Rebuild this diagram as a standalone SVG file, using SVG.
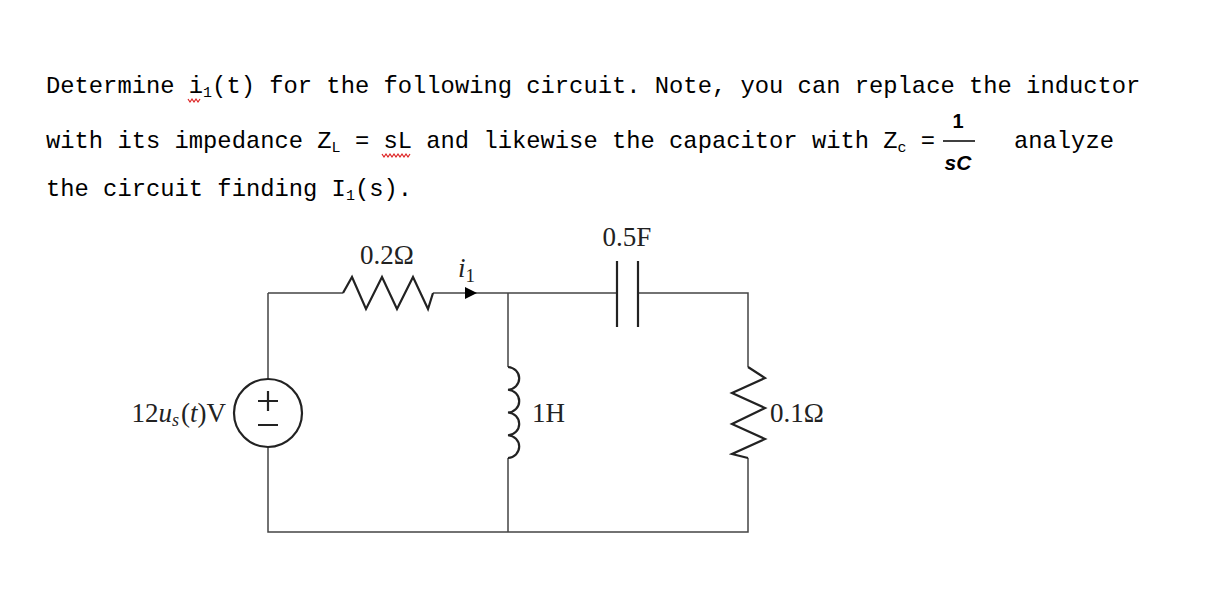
<svg xmlns="http://www.w3.org/2000/svg" width="1212" height="612" viewBox="0 0 1212 612">
<style>
.t{font-family:"Liberation Mono",monospace;font-size:23.8px;fill:#000}
.m{font-family:"Liberation Serif",serif;font-size:27px;fill:#222}
.w{stroke:#444;stroke-width:1.5;fill:none}
.c{stroke:#222;stroke-width:2.2;fill:none}
.sq{stroke:#d22;stroke-width:1.2;fill:none}
</style>
<rect width="1212" height="612" fill="#fff"/>
<g id="text">
<text class="t" x="46" y="93">Determine i<tspan font-size="15" dy="4">1</tspan><tspan dy="-4">(t) for the following circuit. Note, you can replace the inductor</tspan></text>
<text class="t" x="46" y="148">with its impedance Z<tspan font-size="15" dy="4">L</tspan><tspan dy="-4"> = sL and likewise the capacitor with Z</tspan><tspan font-size="15" dy="4">c</tspan><tspan dy="-4"> =</tspan></text>
<text class="t" x="46" y="196">the circuit finding I<tspan font-size="15" dy="4">1</tspan><tspan dy="-4">(s).</tspan></text>
<text x="958" y="128" text-anchor="middle" style="font-family:'Liberation Sans',sans-serif;font-size:20px;font-weight:bold">1</text>
<line x1="943" y1="141" x2="975" y2="141" stroke="#000" stroke-width="1.5"/>
<text x="958" y="170" text-anchor="middle" style="font-family:'Liberation Sans',sans-serif;font-size:21px;font-weight:bold;font-style:italic">sC</text>
<text class="t" x="1014" y="148">analyze</text>
<path class="sq" d="M188 99l2 3 2-3 2 3 2-3 2 3 2-3"/>
<path class="sq" d="M382 154l2 3 2-3 2 3 2-3 2 3 2-3 2 3 2-3 2 3 2-3 2 3 2-3 2 3 2-3"/>
</g>
<g id="connectors">
<path class="w" d="M268 293H343M433 293H617M638 293H748V367M748 458V532H268V447M268 379V293M508 293V367M508 458V532"/>
<path d="M465 287L477 293L465 299Z" fill="#000"/>
</g>
<g id="R1"><path class="c" d="M343 293L352 277L366 309L382 277L397 309L413 277L428 309L433 293"/>
<text class="m" x="387" y="264" text-anchor="middle">0.2Ω</text></g>
<g id="i1"><text class="m" x="458" y="277" font-style="italic">i<tspan font-style="normal" font-size="19" dy="5">1</tspan></text></g>
<g id="C"><path class="c" d="M617 261V327M638 261V327"/>
<text class="m" x="627" y="246" text-anchor="middle">0.5F</text></g>
<g id="L"><path class="c" d="M508 367a12 11.4 0 0 1 0 22.75a12 11.4 0 0 1 0 22.75a12 11.4 0 0 1 0 22.75a12 11.4 0 0 1 0 22.75"/>
<text class="m" x="532" y="422">1H</text></g>
<g id="R2"><path class="c" d="M748 367L765 378L732 393L765 408L732 424L765 439L732 454L748 458"/>
<text class="m" x="770" y="422">0.1Ω</text></g>
<g id="V"><circle class="c" cx="268" cy="413" r="34"/>
<path class="c" d="M258 401H278M268 391V411M258 425H278"/>
<text class="m" x="226" y="422" text-anchor="end">12<tspan font-style="italic">u</tspan><tspan font-style="italic" font-size="18" dy="4">s</tspan><tspan dy="-4" dx="2">(</tspan><tspan font-style="italic">t</tspan>)V</text></g>
</svg>
